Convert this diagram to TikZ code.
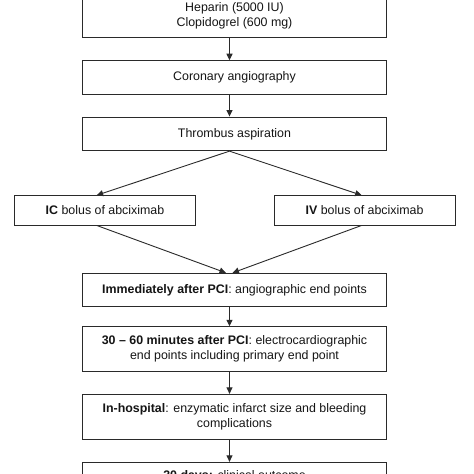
\documentclass[tikz,border=0pt]{standalone}
\usepackage{fontspec}
\setmainfont{Liberation Sans}
\usetikzlibrary{arrows.meta}
\definecolor{ln}{HTML}{2A2A2A}
\definecolor{tx}{HTML}{151515}
\tikzset{
  box/.style={draw=ln, line width=0.9bp, rectangle, align=center, inner sep=0pt,
    text=tx, font=\fontsize{12.4bp}{14.3bp}\selectfont},
  mainbox/.style={box, minimum width=304bp},
  sidebox/.style={box, minimum width=181bp, minimum height=29.3bp},
  arr/.style={draw=ln, line width=0.9bp, -{Triangle[length=6.5bp,width=6bp]}},
  ln/.style={draw=ln, line width=0.9bp}
}
\begin{document}
\begin{tikzpicture}[x=1bp,y=-1bp]
\useasboundingbox (0,0) rectangle (474,474);
\clip (0,0) rectangle (474,474);
\fill[white] (0,0) rectangle (474,474);
\node[mainbox, minimum height=43.8bp] (b1) at (234.5,15.8) {Heparin (5000 IU)\\Clopidogrel (600 mg)};
\node[mainbox, minimum height=33.3bp] (b2) at (234.5,77.35) {Coronary angiography};
\node[mainbox, minimum height=33.7bp] (b3) at (234.5,133.85) {Thrombus aspiration};
\node[sidebox] (ic) at (105,210.35) {\textbf{IC} bolus of abciximab};
\node[sidebox] (iv) at (364.6,210.35) {\textbf{IV} bolus of abciximab};
\node[mainbox, minimum height=33.4bp] (b4) at (234.5,290) {\textbf{Immediately after PCI}: angiographic end points};
\node[mainbox, minimum height=44.3bp] (b5) at (234.5,348.85) {\textbf{30 – 60 minutes after PCI}: electrocardiographic\\end points including primary end point};
\node[mainbox, minimum height=44.7bp] (b6) at (234.5,416.65) {\textbf{In-hospital}: enzymatic infarct size and bleeding\\complications};
\node[mainbox, minimum height=28bp] (b7) at (234.5,476.3) {\textbf{30 days:} clinical outcome};
\draw[arr] ([xshift=-5bp]b1.south) -- ([xshift=-5bp]b2.north);
\draw[arr] ([xshift=-5bp]b2.south) -- ([xshift=-5bp]b3.north);
\draw[arr] ([xshift=-5bp]b3.south) -- ([xshift=-8.3bp]ic.north);
\draw[arr] ([xshift=-5bp]b3.south) -- ([xshift=-3bp]iv.north);
\draw[arr] ([xshift=-8.3bp]ic.south) -- ([xshift=-8.5bp]b4.north);
\draw[arr] ([xshift=-3bp]iv.south) -- ([xshift=-2bp]b4.north);
\draw[arr] ([xshift=-5bp]b4.south) -- ([xshift=-5bp]b5.north);
\draw[arr] ([xshift=-5bp]b5.south) -- ([xshift=-5bp]b6.north);
\draw[arr] ([xshift=-5bp]b6.south) -- ([xshift=-5bp]b7.north);
\end{tikzpicture}
\end{document}
